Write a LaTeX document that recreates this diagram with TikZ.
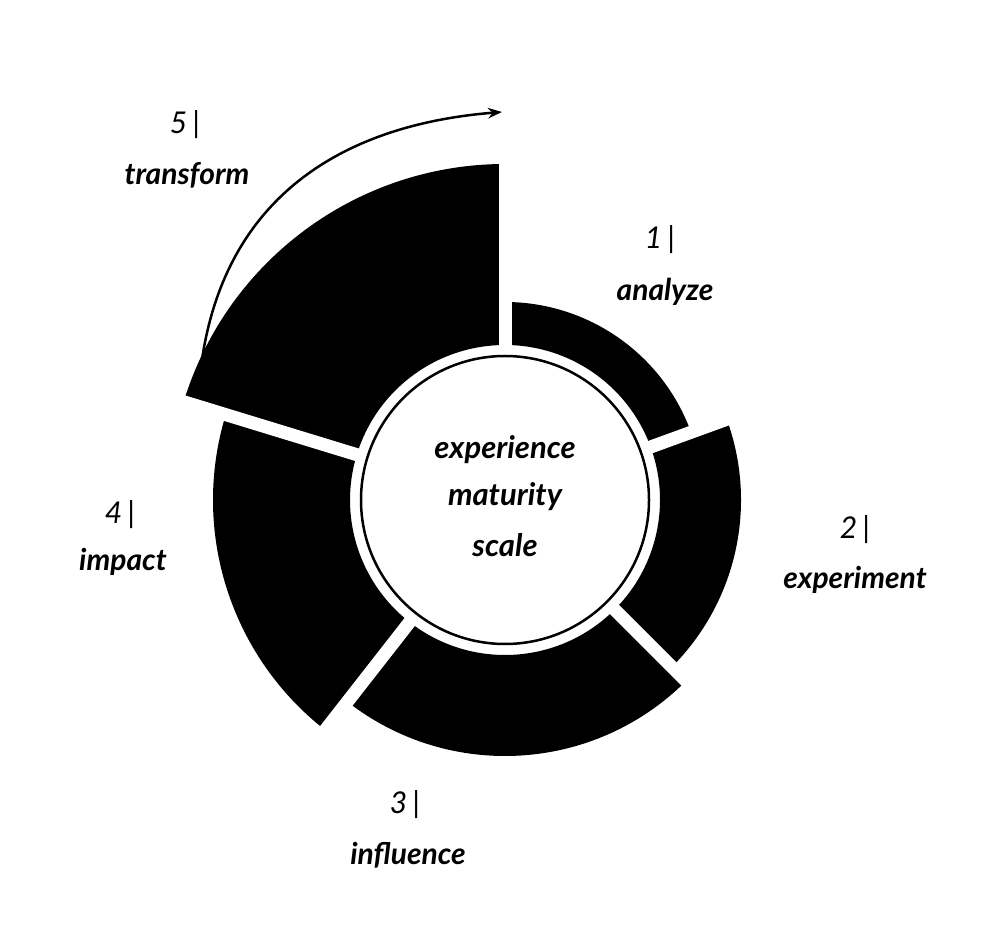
\documentclass[tikz,border=0pt]{standalone}
\usepackage{fontspec}
\setmainfont{Lato}
\usetikzlibrary{arrows.meta}
\begin{document}
\begin{tikzpicture}[x=1pt,y=1pt,
  num/.style={font=\fontsize{30}{34}\selectfont\itshape},
  lab/.style={font=\fontsize{30}{34}\selectfont\bfseries\itshape},
  ctr/.style={font=\fontsize{31}{36}\selectfont\bfseries\itshape}]
\useasboundingbox (0,0) rectangle (1000,940);
\coordinate (c) at (505,440);
\newcommand{\myseg}[3]{\fill ([shift={(505,440)}]#1:155) arc[start angle=#1,end angle=#2,radius=155] -- ([shift={(505,440)}]#2:#3) arc[start angle=#2,end angle=#1,radius=#3] -- cycle;}
\myseg{90}{20}{198}
\myseg{20}{-45}{236}
\myseg{-45}{-128}{256}
\myseg{-128}{-197}{292}
\myseg{163}{90}{336}
\foreach \ang in {90,20,-45,-128,163}
  \draw[white,line width=13pt] (505,440) -- ++(\ang:360pt);
\fill[white] (c) circle[radius=153];
\draw[line width=2.5pt] (c) circle[radius=144];
\node[ctr] (t1) at (505,490) {experience};
\node[ctr] (t2) at (505,443) {maturity};
\node[ctr] (t3) at (505,395) {scale};
\coordinate (s) at (199,555);
\coordinate (e) at (502,828);
\draw[line width=2.5pt,-{Stealth[length=14pt]}] (s) .. controls (215,740) and (340,815) .. (e);
\node[num] (n5) at (185,815) {5\,|};
\node[lab] (l5) at (187,765) {transform};
\node[num] (n1) at (660,700) {1\,|};
\node[lab] (l1) at (665,648) {analyze};
\node[num] (n2) at (855,410) {2\,|};
\node[lab] (l2) at (855,360) {experiment};
\node[num] (n4) at (120,425) {4\,|};
\node[lab] (l4) at (123,378) {impact};
\node[num] (n3) at (405,135) {3\,|};
\node[lab] (l3) at (408,85) {influence};
\end{tikzpicture}
\end{document}
